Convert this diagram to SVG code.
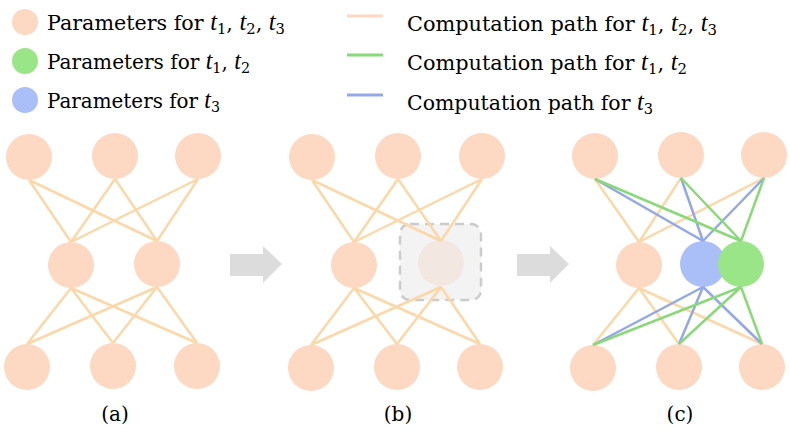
<svg xmlns="http://www.w3.org/2000/svg" width="790" height="434" viewBox="0 0 790 434">
<style>
.t{font-family:"DejaVu Serif","Liberation Serif",serif;font-size:21px;fill:#000}
.i{font-style:italic;font-family:"Liberation Serif","DejaVu Serif",serif;font-size:25px}
.s{font-size:15px}
.n{fill:#fdd8c2}
.o{stroke:#fcd8a8;stroke-width:2.5;fill:none}
.g{stroke:#8ad978;stroke-width:2.5;fill:none}
.b{stroke:#93a8e6;stroke-width:2.5;fill:none}
.lab{text-anchor:middle;font-size:20px}
</style>
<g id="legend">
<circle cx="25" cy="22" r="13" fill="#fdd8c2"/>
<circle cx="25" cy="61" r="13" fill="#9be589"/>
<circle cx="25" cy="100" r="13" fill="#aabff7"/>
<text class="t" x="47" y="30" textLength="238" lengthAdjust="spacingAndGlyphs">Parameters for <tspan class="i">t</tspan><tspan class="s" dy="4">1</tspan><tspan dy="-4">, </tspan><tspan class="i">t</tspan><tspan class="s" dy="4">2</tspan><tspan dy="-4">, </tspan><tspan class="i">t</tspan><tspan class="s" dy="4">3</tspan></text>
<text class="t" x="47" y="69" textLength="203" lengthAdjust="spacingAndGlyphs">Parameters for <tspan class="i">t</tspan><tspan class="s" dy="4">1</tspan><tspan dy="-4">, </tspan><tspan class="i">t</tspan><tspan class="s" dy="4">2</tspan></text>
<text class="t" x="47" y="108" textLength="173" lengthAdjust="spacingAndGlyphs">Parameters for <tspan class="i">t</tspan><tspan class="s" dy="4">3</tspan></text>
<line x1="347" y1="16" x2="383" y2="16" stroke="#fdd8c2" stroke-width="3"/>
<line x1="347" y1="55" x2="383" y2="55" stroke="#8ad978" stroke-width="3"/>
<line x1="347" y1="95" x2="383" y2="95" stroke="#93a8e6" stroke-width="3"/>
<text class="t" x="407" y="31" textLength="310" lengthAdjust="spacingAndGlyphs">Computation path for <tspan class="i">t</tspan><tspan class="s" dy="4">1</tspan><tspan dy="-4">, </tspan><tspan class="i">t</tspan><tspan class="s" dy="4">2</tspan><tspan dy="-4">, </tspan><tspan class="i">t</tspan><tspan class="s" dy="4">3</tspan></text>
<text class="t" x="407" y="70" textLength="280" lengthAdjust="spacingAndGlyphs">Computation path for <tspan class="i">t</tspan><tspan class="s" dy="4">1</tspan><tspan dy="-4">, </tspan><tspan class="i">t</tspan><tspan class="s" dy="4">2</tspan></text>
<text class="t" x="407" y="110" textLength="246" lengthAdjust="spacingAndGlyphs">Computation path for <tspan class="i">t</tspan><tspan class="s" dy="4">3</tspan></text>
</g>
<g id="nodes-a">
<circle class="n" cx="29" cy="157" r="23"/><circle class="n" cx="115" cy="156" r="23"/><circle class="n" cx="198" cy="156" r="23"/>
<circle class="n" cx="71" cy="265" r="23"/><circle class="n" cx="157" cy="264" r="23"/>
<circle class="n" cx="27" cy="367" r="23"/><circle class="n" cx="113" cy="366" r="23"/><circle class="n" cx="197" cy="366" r="23"/>
</g>
<g id="nodes-b">
<circle class="n" cx="312" cy="157" r="23"/><circle class="n" cx="398" cy="156" r="23"/><circle class="n" cx="482" cy="156" r="23"/>
<circle class="n" cx="354" cy="265" r="23"/><circle class="n" cx="441" cy="263" r="23"/>
<rect x="400" y="224" width="81" height="76" rx="10" fill="#eeeeee" fill-opacity="0.7" stroke="#cccccc" stroke-width="2.5" stroke-dasharray="9,6"/>
<circle class="n" cx="311" cy="368" r="23"/><circle class="n" cx="397" cy="367" r="23"/><circle class="n" cx="480" cy="367" r="23"/>
</g>
<g id="nodes-c">
<circle class="n" cx="595" cy="156" r="23"/><circle class="n" cx="681" cy="155" r="23"/><circle class="n" cx="764" cy="155" r="23"/>
<circle class="n" cx="639" cy="265" r="23"/>
<circle cx="703" cy="264" r="23" fill="#aabff7"/>
<circle cx="741" cy="264" r="23" fill="#9be589"/>
<circle class="n" cx="593" cy="368" r="23"/><circle class="n" cx="679" cy="367" r="23"/><circle class="n" cx="762" cy="367" r="23"/>
</g>
<g id="connectors">
<path class="o" d="M29 180L71 242M115 179L71 242M198 179L71 242M29 180L157 241M115 179L157 241M198 179L157 241M71 288L27 344M71 288L113 343M71 288L197 343M157 287L27 344M157 287L113 343M157 287L197 343"/>
<path class="o" d="M312 180L354 242M398 179L354 242M482 179L354 242M312 180L441 241M398 179L441 241M482 179L441 241M354 288L311 345M354 288L397 344M354 288L480 344M441 287L311 345M441 287L397 344M441 287L480 344"/>
<path class="o" d="M595 179L639 242M681 178L639 242M764 178L639 242M639 288L593 345M639 288L679 344M639 288L762 344"/>
<path class="b" d="M595 179L703 241M681 178L703 241M764 178L703 241M703 287L593 345M703 287L679 344M703 287L762 344"/>
<path class="g" d="M595 179L741 241M681 178L741 241M764 178L741 241M741 287L593 345M741 287L679 344M741 287L762 344"/>
<polygon points="230,254 263,254 263,246 282,264 263,283 263,276 230,276" fill="#dcdcdc"/>
<polygon points="517,254 550,254 550,246 569,264 550,283 550,276 517,276" fill="#dcdcdc"/>
</g>
<text class="t lab" x="115" y="421">(a)</text>
<text class="t lab" x="398" y="421">(b)</text>
<text class="t lab" x="680" y="421">(c)</text>
</svg>
